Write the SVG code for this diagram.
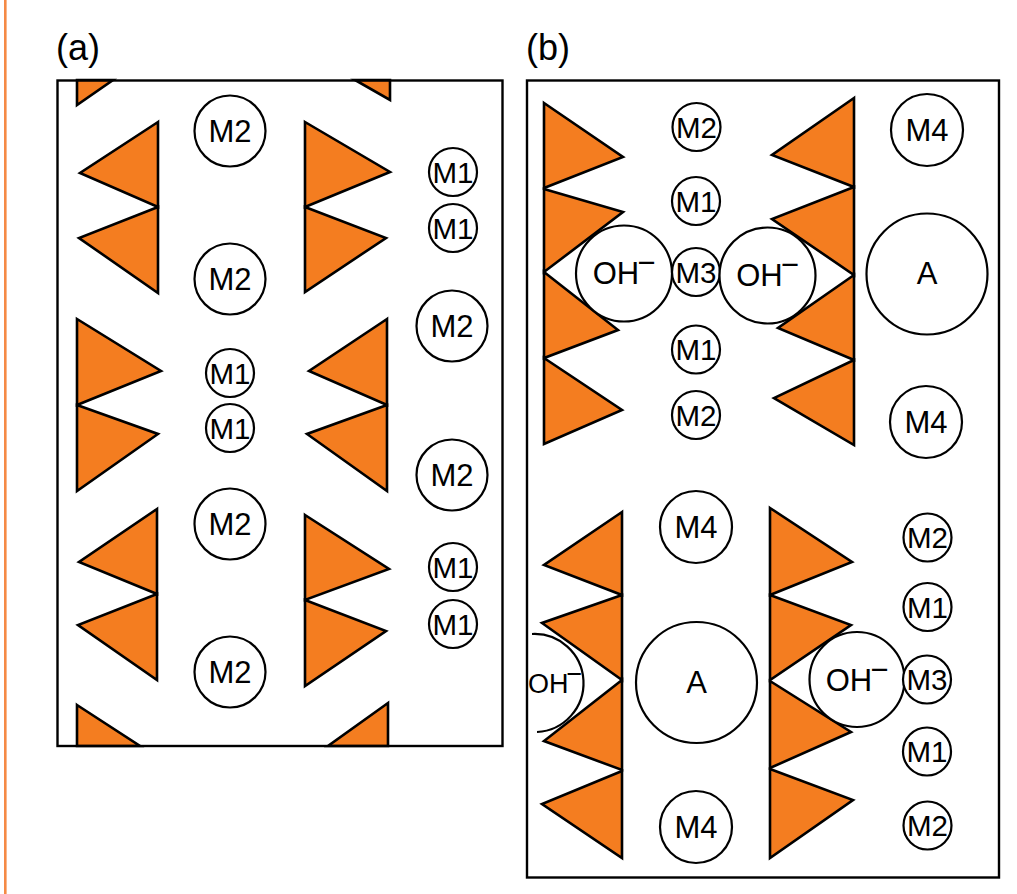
<svg xmlns="http://www.w3.org/2000/svg" width="1017" height="894" viewBox="0 0 1017 894">
<style>
.t{fill:#f47d20;stroke:#000;stroke-width:2.6;stroke-linejoin:miter}
.p{fill:none;stroke:#000;stroke-width:2.4}
.c{fill:#fff;stroke:#000;stroke-width:2.2}
text{font-family:"Liberation Sans",Arial,sans-serif;fill:#000;text-anchor:middle}
.s{font-size:29.5px}
.b{font-size:31px}
.o{font-size:27px;text-anchor:start}
.h{font-size:36px;text-anchor:start}
</style>
<rect width="1017" height="894" fill="#fff"/>
<rect x="4" y="0" width="2.6" height="894" fill="#f58a45"/>
<text class="h" x="56" y="60">(a)</text>
<text class="h" x="526" y="60">(b)</text>
<g id="tetrahedra-a">
<polygon class="t" points="77,80 113,80 77,105"/>
<polygon class="t" points="390,80 355,80 390,100"/>
<polygon class="t" points="158,122 80,173 158,207"/>
<polygon class="t" points="158,207 79,238 158,293"/>
<polygon class="t" points="305,122 390,172 305,207"/>
<polygon class="t" points="305,207 386,238 305,292"/>
<polygon class="t" points="77,319 161,371 77,405"/>
<polygon class="t" points="77,405 158,434 77,491"/>
<polygon class="t" points="387,319 309,371 387,405"/>
<polygon class="t" points="387,405 307,434 387,491"/>
<polygon class="t" points="157,509 79,562 157,594"/>
<polygon class="t" points="157,594 78,625 157,680"/>
<polygon class="t" points="305,515 389,569 305,600"/>
<polygon class="t" points="305,600 386,631 305,686"/>
<polygon class="t" points="77,705 140,746 77,746"/>
<polygon class="t" points="388,703 328,746 388,746"/>
</g>
<rect id="panel-a" class="p" x="57.5" y="80.5" width="445" height="665.5"/>
<g id="a-m2-1"><circle class="c" cx="230" cy="131" r="35.5"/><text class="b" x="230" y="142">M2</text></g>
<g id="a-m2-2"><circle class="c" cx="230" cy="279" r="35.5"/><text class="b" x="230" y="290">M2</text></g>
<g id="a-m1-1"><circle class="c" cx="453" cy="172" r="24"/><text class="s" x="453" y="182.500">M1</text></g>
<g id="a-m1-2"><circle class="c" cx="453" cy="228" r="24"/><text class="s" x="453" y="238.500">M1</text></g>
<g id="a-m2-3"><circle class="c" cx="452" cy="326" r="35.5"/><text class="b" x="452" y="337">M2</text></g>
<g id="a-m1-3"><circle class="c" cx="230" cy="373" r="24"/><text class="s" x="230" y="383.500">M1</text></g>
<g id="a-m1-4"><circle class="c" cx="230" cy="428" r="24"/><text class="s" x="230" y="438.500">M1</text></g>
<g id="a-m2-4"><circle class="c" cx="452" cy="475" r="35.5"/><text class="b" x="452" y="486">M2</text></g>
<g id="a-m2-5"><circle class="c" cx="230" cy="524" r="35.5"/><text class="b" x="230" y="535">M2</text></g>
<g id="a-m1-5"><circle class="c" cx="453" cy="567" r="24"/><text class="s" x="453" y="577.500">M1</text></g>
<g id="a-m1-6"><circle class="c" cx="453" cy="624" r="24"/><text class="s" x="453" y="634.500">M1</text></g>
<g id="a-m2-6"><circle class="c" cx="230" cy="672" r="35.5"/><text class="b" x="230" y="683">M2</text></g>
<rect id="panel-b" class="p" x="527" y="80.5" width="472" height="797"/>
<g id="tetrahedra-b">
<polygon class="t" points="544,103 623,157 544,188"/>
<polygon class="t" points="544,189 623,212 544,272"/>
<polygon class="t" points="544,272 618,330 544,358"/>
<polygon class="t" points="544,358 622,410 544,444"/>
<polygon class="t" points="854,98 772,155 854,187"/>
<polygon class="t" points="854,187 772,219 854,275"/>
<polygon class="t" points="854,275 778,328 854,360"/>
<polygon class="t" points="854,360 774,398 854,445"/>
<polygon class="t" points="622,512 544,565 622,595"/>
<polygon class="t" points="622,595 542,623 622,680"/>
<polygon class="t" points="622,680 544,741 622,770"/>
<polygon class="t" points="622,771 542,804 622,858"/>
<polygon class="t" points="770,508 852,562 770,595"/>
<polygon class="t" points="770,595 851,625 770,680"/>
<polygon class="t" points="770,681 851,732 770,768"/>
<polygon class="t" points="770,769 853,800 770,858"/>
</g>
<g id="b-m2-1"><circle class="c" cx="696.5" cy="127" r="24"/><text class="s" x="696.5" y="137.500">M2</text></g>
<g id="b-m1-1"><circle class="c" cx="696" cy="201" r="24"/><text class="s" x="696" y="211.500">M1</text></g>
<g id="b-oh-1"><circle class="c" cx="624" cy="273.5" r="48"/><text class="b" x="624" y="284">OH<tspan dx="-2" dy="-11">−</tspan></text></g>
<g id="b-m3-1"><circle class="c" cx="696" cy="272" r="24"/><text class="s" x="696" y="282.500">M3</text></g>
<g id="b-oh-2"><circle class="c" cx="767.5" cy="275.5" r="48"/><text class="b" x="767.5" y="286">OH<tspan dx="-2" dy="-11">−</tspan></text></g>
<g id="b-m1-2"><circle class="c" cx="696" cy="349.5" r="24"/><text class="s" x="696" y="360">M1</text></g>
<g id="b-m2-2"><circle class="c" cx="696" cy="415" r="24"/><text class="s" x="696" y="425.500">M2</text></g>
<g id="b-m4-1"><circle class="c" cx="927" cy="130" r="36"/><text class="b" x="927" y="141">M4</text></g>
<g id="b-a-1"><circle class="c" cx="927" cy="274" r="60.5"/><text class="b" x="927" y="284">A</text></g>
<g id="b-m4-2"><circle class="c" cx="926" cy="422" r="36"/><text class="b" x="926" y="433">M4</text></g>
<g id="b-m4-3"><circle class="c" cx="696" cy="527" r="36"/><text class="b" x="696" y="538">M4</text></g>
<g id="b-a-2"><circle class="c" cx="696.5" cy="682.5" r="60.5"/><text class="b" x="696.5" y="693">A</text></g>
<g id="b-m4-4"><circle class="c" cx="696" cy="827" r="36"/><text class="b" x="696" y="838">M4</text></g>
<g id="b-m2-3"><circle class="c" cx="927.5" cy="537.5" r="24"/><text class="s" x="927.5" y="548">M2</text></g>
<g id="b-m1-3"><circle class="c" cx="927.5" cy="607" r="24"/><text class="s" x="927.5" y="617.500">M1</text></g>
<g id="b-oh-3"><circle class="c" cx="857" cy="679.5" r="47.5"/><text class="b" x="857" y="691">OH<tspan dx="-2" dy="-11">−</tspan></text></g>
<g id="b-m3-2"><circle class="c" cx="927" cy="679.5" r="24"/><text class="s" x="927" y="690">M3</text></g>
<g id="b-m1-4"><circle class="c" cx="927" cy="751.5" r="24"/><text class="s" x="927" y="762">M1</text></g>
<g id="b-m2-4"><circle class="c" cx="927.5" cy="825.5" r="24"/><text class="s" x="927.5" y="836">M2</text></g>
<g id="b-oh-4"><path class="c" d="M532,634 A48.5,48.5 0 0 1 537,732"/><text class="o" x="528" y="693">OH<tspan dx="-2" dy="-10">−</tspan></text></g>
</svg>
